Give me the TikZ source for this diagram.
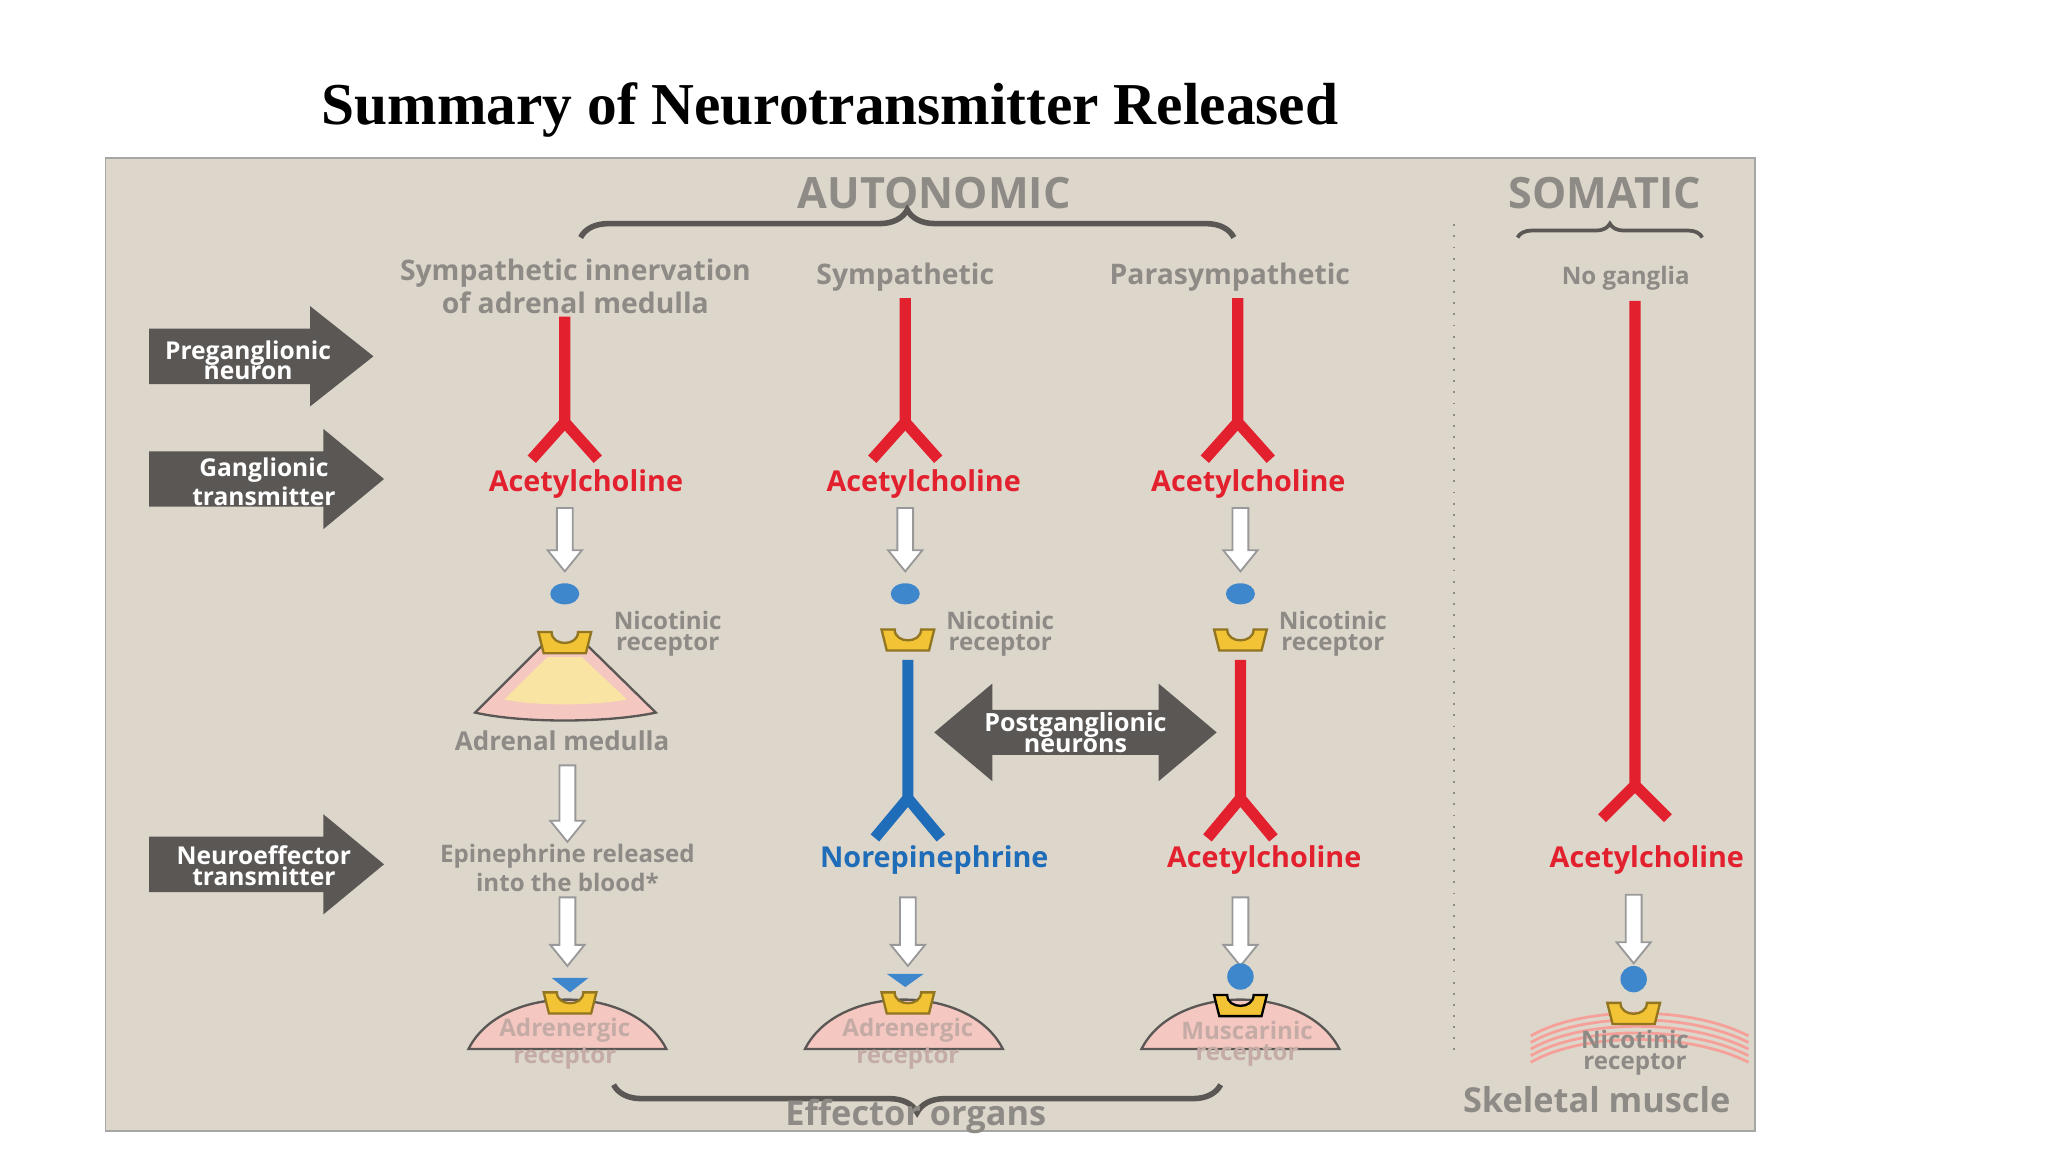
\documentclass[tikz,border=0pt]{standalone}
\usepackage{fontspec}
\setmainfont{Liberation Serif}
\newfontfamily\sans{Open Sans}
\usetikzlibrary{decorations.pathreplacing}
\definecolor{panel}{HTML}{DDD6CB}
\definecolor{gtxt}{HTML}{8E8A86}
\definecolor{dgray}{HTML}{5A5755}
\definecolor{nred}{HTML}{E3202E}
\definecolor{nblue}{HTML}{1F6DB8}
\definecolor{dot}{HTML}{3E87CC}
\definecolor{ylw}{HTML}{F2C335}
\definecolor{pinkf}{HTML}{F4C8C0}
\tikzset{
  hdr/.style={font=\sans\bfseries\fontsize{6.1}{4.6}\selectfont,text=gtxt,align=center},
  big/.style={font=\sans\bfseries\fontsize{9.3}{9}\selectfont,text=gtxt},
  ach/.style={font=\sans\bfseries\fontsize{6.2}{6}\selectfont,text=nred},
  small/.style={font=\sans\bfseries\fontsize{5.2}{4.6}\selectfont,text=gtxt,align=center},
  wtxt/.style={font=\sans\bfseries\fontsize{5.3}{4.4}\selectfont,text=white,align=center},
  neuron/.style={line width=2.4pt},
}
\newcommand\hollowarrow[3]{\draw[fill=white,draw=gray!80,line width=0.4pt] (#1-6,#2) -- (#1+6,#2) -- (#1+6,#3-16) -- (#1+13,#3-16) -- (#1,#3) -- (#1-13,#3-16) -- (#1-6,#3-16) -- cycle;}
\newcommand\blockarrow[4]{\fill[dgray] (#1,#4-21) -- (#2,#4-21) -- (#2,#4-38) -- (#3,#4) -- (#2,#4+38) -- (#2,#4+21) -- (#1,#4+21) -- cycle;}
\newcommand\rcup[3][ylw]{\draw[fill=#1,draw=#3,line width=0.5pt] (#2) ++(-20,-8) -- ++(10,0) .. controls +(0,11) and +(0,11) .. ++(20,0) -- ++(10,0) -- ++(-4,16) -- ++(-32,0) -- cycle;}
\newcommand\dome[3]{\draw[fill=pinkf,draw=dgray,line width=0.5pt] (#1,#3) .. controls (#1+25,#3-50) and (#2-25,#3-50) .. (#2,#3) -- cycle;}
\newcommand\neur[5]{\draw[neuron,#5] (#1,#2) -- (#1,#3) (#1-25,#4) -- (#1,#3) -- (#1+25,#4);}
\begin{document}
\begin{tikzpicture}[x=0.01cm,y=-0.01cm]
\useasboundingbox (0,0) rectangle (1552,873);
\fill[white] (0,0) rectangle (1552,873);
\node[font=\bfseries\fontsize{12.8}{14}\selectfont] (title) at (629,83) {Summary of Neurotransmitter Released};
\draw[fill=panel,draw=gray!70] (80,120) rectangle (1330,857);
\node[big] (auto) at (708,146) {AUTONOMIC};
\node[big] (soma) at (1216,146) {SOMATIC};
\draw[dgray,line width=1.2pt,decorate,decoration={brace,amplitude=6}] (440,180) -- (935,180);
\draw[dgray,line width=0.8pt,decorate,decoration={brace,amplitude=3}] (1150,180) -- (1290,180);
\draw[gtxt,dotted] (1102,170) -- (1102,800);
\node[hdr] (h1) at (436,217) {Sympathetic innervation\\of adrenal medulla};
\node[hdr] (h2) at (686,210) {Sympathetic};
\node[hdr] (h3) at (932,210) {Parasympathetic};
\node[hdr,font=\sans\bfseries\fontsize{5.2}{5}\selectfont] (h4) at (1232,211) {No ganglia};
% left arrows
\blockarrow{113}{235}{283}{270}\node[wtxt] (a1) at (188,273) {Preganglionic\\neuron};
\blockarrow{113}{245}{291}{363}\node[wtxt] (a2) at (200,365) {Ganglionic\\transmitter};
\blockarrow{113}{245}{291}{655}\node[wtxt] (a3) at (200,656) {Neuroeffector\\transmitter};
% preganglionic neurons
\neur{428}{240}{320}{348}{nred}
\neur{686}{226}{320}{348}{nred}
\neur{938}{226}{320}{348}{nred}
\neur{1239}{228}{595}{620}{nred}
\node[ach] (c1) at (444,367) {Acetylcholine};
\node[ach] (c2) at (700,367) {Acetylcholine};
\node[ach] (c3) at (946,367) {Acetylcholine};
\foreach \x in {428,686,940}{\hollowarrow{\x}{385}{433}\fill[dot] (\x,450) ellipse (11 and 8);}
\node[small] (r1) at (506,480) {Nicotinic\\receptor};
\node[small] (r2) at (758,480) {Nicotinic\\receptor};
\node[small] (r3) at (1010,480) {Nicotinic\\receptor};
% adrenal medulla
\draw[fill=pinkf,draw=dgray,line width=0.5pt] (410,490) -- (446,490) -- (497,540) .. controls (460,548) and (395,548) .. (360,540) -- cycle;
\fill[ylw!45] (415,498) -- (441,498) -- (475,530) .. controls (450,535) and (405,535) .. (382,530) -- cycle;
\rcup{428,487}{ylw!60!black}
\node[small,font=\sans\bfseries\fontsize{5.6}{5}\selectfont] (am) at (426,561) {Adrenal medulla};
\hollowarrow{430}{580}{638}
\node[small] (epi) at (430,658) {Epinephrine released\\into the blood*};
% postganglionic
\rcup{688,485}{ylw!60!black}
\neur{688}{500}{605}{635}{nblue}
\rcup{940,485}{ylw!60!black}
\neur{940}{500}{605}{635}{nred}
\fill[dgray] (708,555) -- (752,518) -- (752,538) -- (878,538) -- (878,518) -- (922,555) -- (878,592) -- (878,572) -- (752,572) -- (752,592) -- cycle;
\node[wtxt,font=\sans\bfseries\fontsize{5.4}{4.6}\selectfont] (pg) at (815,555) {Postganglionic\\neurons};
\node[ach,text=nblue] (ne) at (708,652) {Norepinephrine};
\node[ach] (c4) at (958,652) {Acetylcholine};
\node[ach] (c5) at (1248,652) {Acetylcholine};
% effector
\foreach \x in {430,688,940}{\hollowarrow{\x}{680}{732}}
\hollowarrow{1238}{678}{730}
\fill[dot] (418,741) -- (446,741) -- (432,752) -- cycle;
\fill[dot] (672,738) -- (700,738) -- (686,748) -- cycle;
\fill[dot] (940,740) circle (10);
\fill[dot] (1238,742) circle (10);
\dome{355}{505}{795}\rcup{432,760}{ylw!60!black}
\dome{610}{760}{795}\rcup{688,760}{ylw!60!black}
\dome{865}{1015}{795}\rcup[ylw]{940,762}{black}
\foreach \k in {0,5,10,15,20}{\draw[pinkf!80!red,line width=0.6pt] (1160,785+\k) .. controls (1200,762+\k) and (1280,762+\k) .. (1325,785+\k);}
\rcup{1238,768}{ylw!60!black}
\node[small,text=pinkf!60!gray] (ar1) at (428,791) {Adrenergic\\receptor};
\node[small,text=pinkf!60!gray] (ar2) at (688,791) {Adrenergic\\receptor};
\node[small,text=pinkf!60!gray] (mr) at (945,791) {Muscarinic\\receptor};
\node[small] (nr) at (1239,798) {Nicotinic\\receptor};
\node[big,font=\sans\bfseries\fontsize{7.4}{7}\selectfont] (sk) at (1210,833) {Skeletal muscle};
\draw[dgray,line width=1.2pt,decorate,decoration={brace,amplitude=6,mirror}] (465,822) -- (925,822);
\node[big,font=\sans\bfseries\fontsize{7.4}{7}\selectfont] (eo) at (694,846) {Effector organs};
\end{tikzpicture}
\end{document}
